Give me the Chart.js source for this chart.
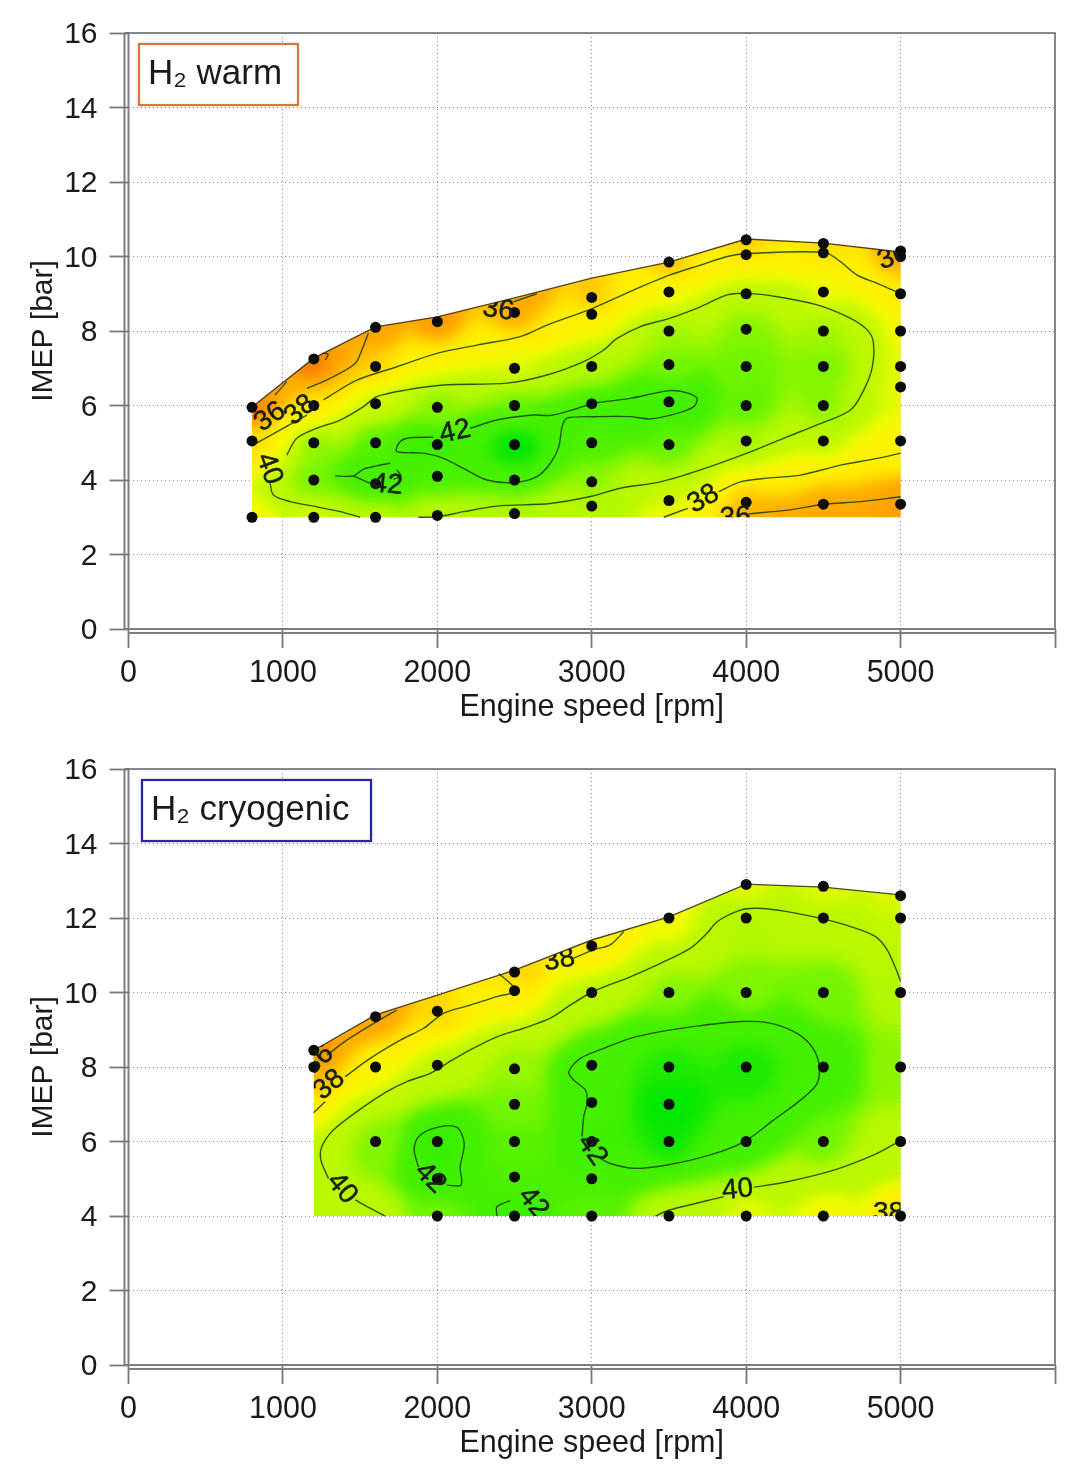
<!DOCTYPE html>
<html>
<head>
<meta charset="utf-8">
<title>Indicated efficiency maps</title>
<script src="https://cdn.jsdelivr.net/npm/chart.js@4/dist/chart.umd.min.js"></script>
<style>
  html, body { margin: 0; padding: 0; background: #fff; overflow: hidden; }
  canvas { position: absolute; left: 0; }
  #warm { top: 0; }
  #cryo { top: 736px; }
</style>
</head>
<body>
<canvas id="warm" width="1073" height="736"></canvas>
<canvas id="cryo" width="1073" height="736"></canvas>
<script>
// Axis ranges and titles
const xTicks = [0, 1000, 2000, 3000, 4000, 5000];
const xTitle = 'Engine speed [rpm]';
const yTitle = 'IMEP [bar]';

// Measured operating points, H2 warm: [rpm, IMEP, efficiency %]
const warmPoints = [
  [800,3.0,38.8],[800,5.05,37.5],[800,5.95,34.5],
  [1200,3.0,39.2],[1200,4.0,41.2],[1200,5.0,41],[1200,6.0,37.8],[1200,7.25,33.5],
  [1600,3.0,39.8],[1600,3.9,42],[1600,5.0,41.7],[1600,6.05,39.8],[1600,7.05,37],[1600,8.1,35.8],
  [2000,3.05,40],[2000,4.1,41.8],[2000,4.95,42.2],[2000,5.95,41],[2000,8.25,35.5],
  [2500,3.1,40.3],[2500,4.0,42],[2500,4.95,43.2],[2500,6.0,41.5],[2500,7.0,39.3],[2500,8.5,36],
  [3000,3.3,40],[3000,3.95,41],[3000,5.0,41.8],[3000,6.05,42],[3000,7.05,40.2],[3000,8.45,38.3],[3000,8.9,36.5],
  [3500,3.45,39.8],[3500,4.95,41.5],[3500,6.1,42.1],[3500,7.1,41.2],[3500,8.0,40.6],[3500,9.05,38.8],[3500,9.85,36.5],
  [4000,3.4,36.5],[4000,5.05,40.4],[4000,6.0,41.5],[4000,7.05,41.3],[4000,8.05,41],[4000,9.0,40],[4000,10.05,38],[4000,10.45,36.5],
  [4500,3.35,36],[4500,5.05,40],[4500,6.0,41],[4500,7.05,41],[4500,8.0,40.5],[4500,9.05,39],[4500,10.1,38],[4500,10.35,37],
  [5000,3.35,35.5],[5000,5.05,38.6],[5000,6.5,39.2],[5000,7.05,39.2],[5000,8.0,38.8],[5000,9.0,38],[5000,10.0,36.5],[5000,10.15,35.5]
];

// Full-load limit and lowest load of the warm map
const warmUpperLimit = [[800,5.96],[1200,7.27],[1600,8.11],[2000,8.38],[2500,8.89],[3000,9.42],[3500,9.85],[4000,10.47],[4500,10.36],[5000,10.12]];
const warmLowerLimit = 3.0;

// Iso-efficiency lines of the warm map, one list of polylines per level
const warmLevel36 = [
  [[949,6.28],[1025,6.64]],
  [[1155,6.46],[1306,6.73],[1468,7.13],[1511,7.49],[1554,7.95]],
  [[1252,7.40],[1293,7.38],[1274,7.22]],
  [[2492,8.78],[2559,8.88],[2645,9.0]],
  [[4016,3.09],[4266,3.19],[4507,3.35],[4741,3.42],[5000,3.55]]
];
const warmLevel38 = [
  [[820,4.97],[1003,5.39],[1155,5.74]],
  [[1262,6.15],[1479,6.68],[1738,7.04],[1997,7.40],[2256,7.62],[2537,7.85],[2710,8.16],[3006,8.61],[3270,9.10],[3503,9.50],[3704,9.77],[3877,10.0],[4006,10.08],[4507,10.11],[4611,9.86],[4719,9.50],[4849,9.28],[5000,9.0]],
  [[3466,3.0],[3622,3.24]],
  [[3823,3.69],[3963,3.95],[4136,4.05],[4352,4.13],[4611,4.40],[4849,4.58],[5000,4.72]]
];
const warmLevel40 = [
  [[1025,4.67],[1090,5.12],[1220,5.39],[1371,5.61],[1522,5.97],[1608,6.24],[1803,6.42],[2040,6.55],[2451,6.60],[2710,6.82],[2948,7.18],[3077,7.49],[3164,7.80],[3315,8.12],[3503,8.34],[3704,8.65],[3877,8.97],[4006,9.01],[4201,8.92],[4460,8.70],[4676,8.34],[4784,8.03],[4823,7.71],[4817,7.04],[4762,6.42],[4676,5.88],[4460,5.48],[4266,5.16],[4006,4.72],[3704,4.27],[3445,3.95],[3185,3.78],[3006,3.57],[2732,3.37],[2386,3.30],[2170,3.15],[1997,3.01],[1877,3.0]],
  [[917,3.91],[938,3.60],[1047,3.42],[1220,3.28],[1371,3.15],[1500,3.0]]
];
const warmLevel42 = [
  [[2213,5.39],[2386,5.61],[2602,5.74],[2743,5.74],[2905,5.92],[3012,6.06],[3250,6.19],[3503,6.40],[3618,6.34],[3682,6.19],[3661,5.97],[3553,5.79],[3380,5.64],[3250,5.70],[3034,5.70],[2840,5.66],[2808,5.43],[2786,4.89],[2732,4.45],[2645,4.09],[2494,3.93],[2321,4.00],[2170,4.31],[2040,4.58],[1911,4.72],[1738,4.76],[1749,4.98],[1803,5.12],[1975,5.15]],
  [[1338,4.11],[1457,4.11],[1522,4.29],[1608,4.38],[1695,4.45]],
  [[1457,4.11],[1565,3.91]],
  [[1716,4.02],[1764,4.11],[1738,4.27]]
];

// Inline contour labels: [level, rpm, IMEP, rotation in degrees]
const warmLabels = [
  [36,2395,8.56,8],[36,917,5.69,-35],[38,1112,5.88,-40],[40,910,4.30,70],
  [42,2116,5.29,-12],[42,1675,3.87,5],[38,3723,3.49,-30],[36,3931,2.98,-5],[36,4954,9.99,-20]
];

// Measured operating points, H2 cryogenic: [rpm, IMEP, efficiency %]
const cryoPoints = [
  [1200,8.0,36.5],[1200,8.45,34.5],
  [1600,6.0,41],[1600,8.0,38.6],[1600,9.35,35.8],
  [2000,4.0,41.2],[2000,5.0,42.1],[2000,6.0,42.3],[2000,8.05,40],[2000,9.5,37],
  [2500,4.0,42.2],[2500,5.05,41.8],[2500,6.0,41.6],[2500,7.0,41.2],[2500,7.95,40.6],[2500,10.05,38],[2500,10.55,37],
  [3000,4.0,41.6],[3000,5.0,41.9],[3000,6.0,42.1],[3000,7.05,42],[3000,8.05,41.9],[3000,10.0,40],[3000,11.25,38],
  [3500,4.0,40],[3500,6.0,42.9],[3500,7.0,43],[3500,8.0,42.6],[3500,10.0,41],[3500,12.0,38.8],
  [4000,4.0,39.2],[4000,6.0,42],[4000,8.0,42.6],[4000,10.0,41],[4000,12.0,40.2],[4000,12.9,39.2],
  [4500,4.0,38.8],[4500,6.0,41.3],[4500,8.0,42],[4500,10.0,41.2],[4500,12.0,40],[4500,12.85,39.3],
  [5000,4.0,37.9],[5000,6.0,40],[5000,8.0,40.8],[5000,10.0,40.2],[5000,12.0,39.8],[5000,12.6,39.3]
];

// Full-load limit and lowest load of the cryogenic map
const cryoUpperLimit = [[1200,8.45],[1600,9.40],[2000,9.93],[2500,10.60],[3000,11.41],[3500,12.03],[4000,12.91],[4500,12.83],[5000,12.62]];
const cryoLowerLimit = 4.0;

// Iso-efficiency lines of the cryogenic map
const cryoLevel36 = [
  [[1285,8.32],[1414,8.72],[1608,9.22],[1738,9.53]]
];
const cryoLevel38 = [
  [[1198,6.77],[1273,7.07]],
  [[1403,7.74],[1565,8.23],[1760,8.72],[1911,9.04],[2040,9.44],[2213,9.66],[2386,9.89],[2505,10.02],[2483,10.20],[2397,10.51]],
  [[2883,10.92],[3006,11.14],[3120,11.28],[3207,11.63]]
];
const cryoLevel40 = [
  [[5000,10.3],[4968,10.65],[4914,11.14],[4838,11.50],[4676,11.77],[4503,11.97],[4266,12.17],[4071,12.26],[3963,12.21],[3812,11.90],[3747,11.59],[3640,11.19],[3445,10.78],[3250,10.42],[3006,10.02],[2861,9.66],[2732,9.31],[2559,9.04],[2386,8.81],[2213,8.46],[2062,8.10],[1954,7.83],[1803,7.61],[1673,7.34],[1522,6.93],[1327,6.31],[1252,5.86],[1246,5.50],[1295,5.01]],
  [[1468,4.43],[1565,4.21],[1662,4.0]],
  [[3412,4.0],[3503,4.16],[3855,4.52]],
  [[4049,4.77],[4266,4.92],[4568,5.23],[4827,5.64],[4968,5.95],[5000,6.02]]
];
const cryoLevel42 = [
  [[3056,5.55],[3120,5.41],[3272,5.28],[3488,5.37],[3768,5.64],[3985,5.99],[4179,6.58],[4352,7.11],[4460,7.56],[4471,8.10],[4417,8.59],[4309,8.95],[4136,9.19],[3963,9.22],[3704,9.11],[3445,8.95],[3250,8.77],[3077,8.50],[2926,8.23],[2851,7.87],[2883,7.65],[2959,7.38],[2970,7.03],[2948,6.67],[2937,6.13]],
  [[1878,5.31],[1850,5.77],[1878,6.13],[1997,6.38],[2127,6.38],[2174,5.95],[2148,5.32],[2154,4.83],[2062,4.83]],
  [[2386,4.0],[2386,4.25],[2472,4.41]]
];

const cryoLabels = [
  [36,1228,8.19,-40],[38,1300,7.52,-40],[40,1382,4.74,50],[42,1954,5.02,45],
  [42,2621,4.35,50],[42,3002,5.77,55],[38,2790,10.87,-10],[40,3944,4.70,-5],[38,4922,4.08,0]
];

// Efficiency to colour ramp
const rampValues = [33.5, 35, 36, 37, 38, 39, 40, 41, 42, 43];
const rampColors = [[238,106,16],[251,144,0],[255,168,0],[255,205,0],[255,240,0],[240,252,0],[186,248,0],[128,246,0],[66,240,0],[0,232,0]];

function rampColor(v) {
  if (v <= rampValues[0]) return rampColors[0];
  for (let i = 1; i < rampValues.length; i++) {
    if (v <= rampValues[i]) {
      const t = (v - rampValues[i - 1]) / (rampValues[i] - rampValues[i - 1]);
      const a = rampColors[i - 1], b = rampColors[i];
      return [a[0] + (b[0] - a[0]) * t, a[1] + (b[1] - a[1]) * t, a[2] + (b[2] - a[2]) * t];
    }
  }
  return rampColors[rampColors.length - 1];
}

// Traces the outline of the mapped region through the chart's scales
function regionPath(ctx, map, sx, sy) {
  const up = map.upper;
  ctx.beginPath();
  ctx.moveTo(sx.getPixelForValue(up[0][0]), sy.getPixelForValue(map.lower));
  up.forEach(p => ctx.lineTo(sx.getPixelForValue(p[0]), sy.getPixelForValue(p[1])));
  ctx.lineTo(sx.getPixelForValue(up[up.length - 1][0]), sy.getPixelForValue(map.lower));
  ctx.closePath();
}

// Builds the shaded field: a soft kernel over the measured values and the iso-lines
function buildField(map, sx, sy) {
  const samples = [];
  map.points.forEach(p => samples.push([sx.getPixelForValue(p[0]), sy.getPixelForValue(p[1]), p[2], 4]));
  Object.keys(map.levels).forEach(level => {
    map.levels[level].forEach(line => {
      for (let i = 0; i < line.length; i++) {
        const x = sx.getPixelForValue(line[i][0]), y = sy.getPixelForValue(line[i][1]);
        samples.push([x, y, +level, 1]);
        if (i + 1 < line.length) {
          const x2 = sx.getPixelForValue(line[i + 1][0]), y2 = sy.getPixelForValue(line[i + 1][1]);
          const n = Math.floor(Math.hypot(x2 - x, y2 - y) / 10);
          for (let k = 1; k < n; k++) samples.push([x + (x2 - x) * k / n, y + (y2 - y) * k / n, +level, 1]);
        }
      }
    });
  });
  const step = 3, soft = 500;
  const rpm = map.upper.map(p => p[0]), imep = map.upper.map(p => p[1]);
  const x0 = sx.getPixelForValue(Math.min(...rpm)) - 9, x1 = sx.getPixelForValue(Math.max(...rpm)) + 9;
  const y0 = sy.getPixelForValue(Math.max(...imep)) - 9, y1 = sy.getPixelForValue(map.lower) + 9;
  const w = Math.ceil((x1 - x0) / step), h = Math.ceil((y1 - y0) / step);
  const off = document.createElement('canvas');
  off.width = w; off.height = h;
  const octx = off.getContext('2d');
  const img = octx.createImageData(w, h);
  for (let j = 0; j < h; j++) {
    for (let i = 0; i < w; i++) {
      const px = x0 + i * step, py = y0 + j * step;
      let sum = 0, weight = 0;
      for (let s = 0; s < samples.length; s++) {
        const dx = px - samples[s][0], dy = py - samples[s][1];
        const d2 = dx * dx + dy * dy + soft;
        const wgt = samples[s][3] / (d2 * d2 * d2);
        sum += wgt * samples[s][2];
        weight += wgt;
      }
      const c = rampColor(sum / weight), o = (j * w + i) * 4;
      img.data[o] = c[0]; img.data[o + 1] = c[1]; img.data[o + 2] = c[2]; img.data[o + 3] = 255;
    }
  }
  octx.putImageData(img, 0, 0);
  return { canvas: off, x: x0, y: y0, w: w * step, h: h * step };
}

// Paints the shaded field under the lines and points
const fieldPlugin = {
  id: 'field',
  beforeDatasetsDraw(chart, args, opts) {
    const map = opts.map, sx = chart.scales.x, sy = chart.scales.y, ctx = chart.ctx;
    if (!chart.$field) chart.$field = buildField(map, sx, sy);
    const f = chart.$field;
    ctx.save();
    regionPath(ctx, map, sx, sy);
    ctx.clip();
    ctx.imageSmoothingEnabled = true;
    ctx.imageSmoothingQuality = 'high';
    ctx.filter = 'blur(3px)';
    ctx.drawImage(f.canvas, f.x, f.y, f.w, f.h);
    ctx.restore();
  }
};

// Contour labels, cut off at the edge of the mapped region
const labelPlugin = {
  id: 'contourLabels',
  afterDatasetsDraw(chart, args, opts) {
    const map = opts.map, sx = chart.scales.x, sy = chart.scales.y, ctx = chart.ctx;
    ctx.save();
    regionPath(ctx, map, sx, sy);
    ctx.clip();
    ctx.font = '28px "Liberation Sans"';
    ctx.fillStyle = '#142014';
    ctx.strokeStyle = '#142014';
    ctx.lineWidth = 0.5;
    ctx.textAlign = 'center';
    ctx.textBaseline = 'middle';
    map.labels.forEach(l => {
      ctx.save();
      ctx.translate(sx.getPixelForValue(l[1]), sy.getPixelForValue(l[2]));
      ctx.rotate(l[3] * Math.PI / 180);
      ctx.fillText(String(l[0]), 0, 0);
      ctx.strokeText(String(l[0]), 0, 0);
      ctx.restore();
    });
    ctx.restore();
  }
};

// Double axis lines, outer frame and the tag box in the corner
const framePlugin = {
  id: 'frame',
  afterDraw(chart, args, opts) {
    const a = chart.chartArea, ctx = chart.ctx;
    ctx.save();
    ctx.lineWidth = 1.5;
    ctx.strokeStyle = '#5f656c';
    ctx.beginPath();
    ctx.moveTo(a.left - 4, a.top); ctx.lineTo(a.right, a.top); ctx.lineTo(a.right, a.bottom);
    ctx.stroke();
    ctx.lineWidth = 2;
    ctx.strokeStyle = '#7a7e84';
    ctx.beginPath();
    ctx.moveTo(a.left - 4, a.bottom); ctx.lineTo(a.right, a.bottom);
    ctx.moveTo(a.left - 4, a.top); ctx.lineTo(a.left - 4, a.bottom);
    ctx.moveTo(a.left, a.top); ctx.lineTo(a.left, a.bottom);
    ctx.moveTo(a.left, a.bottom + 4); ctx.lineTo(a.right, a.bottom + 4);
    ctx.stroke();

    const bx = a.left + opts.boxX, by = a.top + 11, bw = opts.boxW, bh = 61;
    ctx.shadowColor = 'rgba(90,90,90,0.25)';
    ctx.shadowBlur = 5;
    ctx.fillStyle = '#fff';
    ctx.fillRect(bx, by, bw, bh);
    ctx.shadowColor = 'transparent';
    ctx.strokeStyle = opts.boxColor;
    ctx.lineWidth = 2.2;
    ctx.strokeRect(bx, by, bw, bh);
    ctx.fillStyle = '#1a1a1a';
    ctx.font = '35px "Liberation Sans"';
    ctx.textAlign = 'left';
    ctx.textBaseline = 'alphabetic';
    ctx.fillText(opts.tag, bx + 9, by + 40);
    ctx.restore();
  }
};

function makeMap(id, map, tag, boxX, boxW, boxColor) {
  const lineSets = [];
  Object.keys(map.levels).forEach(level => {
    map.levels[level].forEach(line => {
      lineSets.push({
        type: 'scatter', showLine: true, order: 2,
        data: line.map(p => ({ x: p[0], y: p[1] })),
        borderColor: 'rgba(24,60,20,0.85)', borderWidth: 1.4, pointRadius: 0, tension: 0.3, clip: false
      });
    });
  });
  const edge = {
    type: 'scatter', showLine: true, order: 2,
    data: map.upper.map(p => ({ x: p[0], y: p[1] })),
    borderColor: 'rgba(50,40,10,0.85)', borderWidth: 1.4, pointRadius: 0, tension: 0
  };
  const dots = {
    type: 'scatter', order: 1,
    data: map.points.map(p => ({ x: p[0], y: p[1] })),
    pointRadius: 5.5, pointBackgroundColor: '#0c0c0c', pointBorderWidth: 0
  };
  return new Chart(document.getElementById(id), {
    type: 'scatter',
    data: { datasets: [dots, edge].concat(lineSets) },
    plugins: [fieldPlugin, labelPlugin, framePlugin],
    options: {
      responsive: false,
      animation: false,
      layout: { padding: { top: 33, right: 18, left: 0, bottom: 0 } },
      plugins: {
        legend: { display: false },
        tooltip: { enabled: false },
        field: { map },
        contourLabels: { map },
        frame: { tag, boxX, boxW, boxColor }
      },
      scales: {
        x: {
          type: 'linear', min: 0, max: 6000,
          afterBuildTicks(s) { s.ticks = xTicks.concat([6000]).map(v => ({ value: v })); },
          afterFit(s) { s.height = 107; },
          border: { display: false, dash: [1, 3] },
          grid: { color: '#8d8d8d', lineWidth: 1, tickColor: '#777', tickWidth: 1.8, tickLength: 19 },
          ticks: {
            color: '#1a1a1a', maxRotation: 0, padding: 7,
            font: { family: '"Liberation Sans"', size: 30.5 },
            callback: v => xTicks.includes(v) ? String(v) : ''
          },
          title: { display: true, text: xTitle, color: '#1a1a1a', font: { family: '"Liberation Sans"', size: 30.5 }, padding: { top: 0, bottom: 10 } }
        },
        y: {
          type: 'linear', min: 0, max: 16,
          afterFit(s) { s.width = 128.5; },
          border: { display: false, dash: [1, 3] },
          grid: { color: '#8d8d8d', lineWidth: 1, tickColor: '#777', tickWidth: 1.8, tickLength: 19 },
          ticks: {
            stepSize: 2, color: '#1a1a1a', padding: 12, labelOffset: 2,
            font: { family: '"Liberation Sans"', size: 30 }
          },
          title: { display: true, text: yTitle, color: '#1a1a1a', font: { family: '"Liberation Sans"', size: 30 }, padding: { top: 26, bottom: 0 } }
        }
      }
    }
  });
}

makeMap('warm', {
  points: warmPoints, upper: warmUpperLimit, lower: warmLowerLimit,
  levels: { 36: warmLevel36, 38: warmLevel38, 40: warmLevel40, 42: warmLevel42 },
  labels: warmLabels
}, 'H\u2082 warm', 10.5, 159, '#d8773a');

makeMap('cryo', {
  points: cryoPoints, upper: cryoUpperLimit, lower: cryoLowerLimit,
  levels: { 36: cryoLevel36, 38: cryoLevel38, 40: cryoLevel40, 42: cryoLevel42 },
  labels: cryoLabels
}, 'H\u2082 cryogenic', 13.5, 229, '#2626a0');
</script>
</body>
</html>
